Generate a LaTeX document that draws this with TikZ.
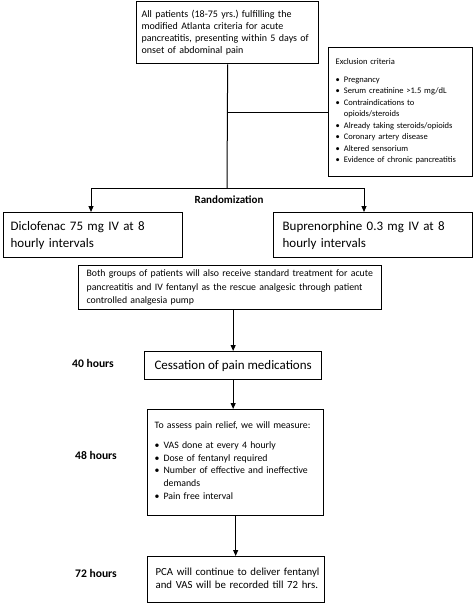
\documentclass[tikz,border=0pt]{standalone}
\usepackage{fontspec}
\setmainfont{Carlito}
\usetikzlibrary{arrows.meta}
\frenchspacing
\begin{document}
\begin{tikzpicture}[x=1pt,y=-1pt,
  box/.style={draw, line width=1.3pt, anchor=north west, inner ysep=0pt, align=left},
  conn/.style={line width=1pt},
  arr/.style={conn, -{Triangle[length=6pt,width=5pt]}},
  tlabel/.style={font=\fontsize{11.6}{13}\selectfont\bfseries},
]
\useasboundingbox (0,0) rectangle (474,603);

\node[box, inner xsep=5pt, text width=172pt, minimum width=182pt, minimum height=62pt,
      font=\fontsize{10}{12.3}\selectfont] (top) at (136,1)
  {All patients (18-75 yrs.) fulfilling the\\ modified Atlanta criteria for acute\\ pancreatitis, presenting within 5 days of\\ onset of abdominal pain};

\node[box, inner xsep=7pt, text width=130pt, minimum width=144pt, minimum height=129pt,
      font=\fontsize{8.5}{11.5}\selectfont] (excl) at (328,47)
  {Exclusion criteria\\[9pt]
   \begin{tabular}{@{}l@{\hspace{4pt}}l@{}}
   \textbullet & Pregnancy\\
   \textbullet & Serum creatinine >1.5 mg/dL\\
   \textbullet & Contraindications to\\
               & opioids/steroids\\
   \textbullet & Already taking steroids/opioids\\
   \textbullet & Coronary artery disease\\
   \textbullet & Altered sensorium\\
   \textbullet & Evidence of chronic pancreatitis
   \end{tabular}};

\node[box, inner xsep=7pt, text width=165pt, minimum width=179pt, minimum height=45pt,
      font=\fontsize{13}{17}\selectfont] (left) at (3,212)
  {Diclofenac 75 mg IV at 8\\ hourly intervals};

\node[box, inner xsep=9pt, text width=181pt, minimum width=199pt, minimum height=45pt,
      font=\fontsize{13}{17}\selectfont] (right) at (273,212)
  {Buprenorphine 0.3 mg IV at 8\\ hourly intervals};

\node[font=\fontsize{11}{13}\selectfont\bfseries] (rand) at (229,200) {Randomization};

\node[box, inner xsep=8pt, text width=287pt, minimum width=303pt, minimum height=44pt,
      font=\fontsize{9.8}{13.5}\selectfont] (both) at (78,265)
  {Both groups of patients will also receive standard treatment for acute\\ pancreatitis and IV fentanyl as the rescue analgesic through patient\\ controlled analgesia pump};

\node[box, align=center, inner xsep=0pt, minimum width=177pt, minimum height=28pt,
      font=\fontsize{13}{16}\selectfont] (cess) at (144,351)
  {Cessation of pain medications};

\node[box, inner xsep=7pt, text width=162pt, minimum width=176pt, minimum height=106pt,
      font=\fontsize{9.8}{12.8}\selectfont] (meas) at (147,409)
  {To assess pain relief, we will measure:\\[8pt]
   \begin{tabular}{@{}l@{\hspace{4pt}}l@{}}
   \textbullet & VAS done at every 4 hourly\\
   \textbullet & Dose of fentanyl required\\
   \textbullet & Number of effective and ineffective\\
               & demands\\
   \textbullet & Pain free interval
   \end{tabular}};

\node[box, inner xsep=8pt, text width=161pt, minimum width=177pt, minimum height=46pt,
      font=\fontsize{10.8}{13}\selectfont] (pca) at (147,556)
  {\begin{tabular}{@{}l@{}}PCA will continue to deliver fentanyl\\ and VAS will be recorded till 72 hrs.\end{tabular}\par\vspace{9pt}};

\node[tlabel] (h40) at (93,363) {40 hours};
\node[tlabel] (h48) at (96,455) {48 hours};
\node[tlabel] (h72) at (96,573) {72 hours};

\coordinate (split) at (227,188);
\coordinate (lT) at (91,188);
\coordinate (rT) at (364,188);

\draw[conn] (top.south) -- (split);
\draw[conn] (excl.west) -- (excl.west -| split);
\draw[conn] (lT) -- (rT);
\draw[arr] (lT) -- (lT |- left.north);
\draw[arr] (rT) -- (rT |- right.north);
\draw[arr] (cess.north |- both.south) -- (cess.north);
\draw[arr] (cess.south) -- (cess.south |- meas.north);
\draw[arr] (meas.south) -- (meas.south |- pca.north);
\end{tikzpicture}
\end{document}
